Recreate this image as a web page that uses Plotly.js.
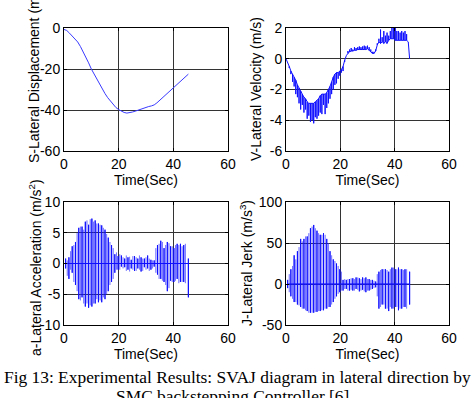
<!DOCTYPE html>
<html><head><meta charset="utf-8">
<script src="https://cdn.plot.ly/plotly-3.0.1.min.js"></script>
<style>html,body{margin:0;padding:0;background:#fff;}#chart{width:474px;height:398px;}</style>
</head><body><div id="chart"></div>
<script>
// ---- S: lateral displacement (m)
const sT = [0,1,2,3,4,5,6,7,8,9,10,11,12,13,14,15,16,17,18,19,20,21,22,23,24,25,26,27,28,29,30,31,32,33,34,35,36,37,38,39,40,41,42,43,44,45,45.5];
const sV = [-0.7,-1.2,-2.5,-3.8,-5.2,-6.8,-9,-11.5,-14.2,-17,-20,-22.5,-25,-27.6,-30,-32,-34,-35.8,-37.5,-38.8,-39.8,-40.6,-41.2,-41.5,-41.4,-41,-40.6,-40.1,-39.6,-39.1,-38.7,-38.3,-38,-37.5,-36.5,-35.3,-34.2,-33,-31.7,-30.5,-29.3,-28,-26.7,-25.4,-24.2,-23,-22.5];

// ---- V: lateral velocity (m/s): base level and spike tip
const vT = [0,0.6,1.2,1.8,2.4,3.0,3.6,4.2,4.8,5.4,6.0,6.6,7.2,7.8,8.4,9.0,9.6,10.2,10.8,11.4,12.0,12.6,13.2,13.8,14.4,15.0,15.6,16.2,16.8,17.4,18.0,18.6,19.2,19.8,20.4,21.0,21.6,22.2,22.8,23.4,24.0,24.6,25.2,25.8,26.4,27.0,27.6,28.2,28.8,29.4,30.0,30.6,31.2,31.8,32.4,33.0,33.6,34.2,34.8,35.4,36.0,36.6,37.2,37.8,38.4,39.0,39.6,40.2,40.8,41.4,42.0,42.6,43.2,43.8,44.4,45.0,45.5];
const vBase = [0,-0.2,-0.5,-0.8,-1.0,-1.2,-1.4,-1.7,-1.9,-2.1,-2.3,-2.5,-2.6,-2.8,-2.9,-2.9,-2.9,-2.9,-2.8,-2.7,-2.6,-2.4,-2.3,-2.3,-2.3,-2.2,-2.0,-1.8,-1.5,-1.2,-1.0,-0.9,-0.9,-0.8,-0.7,-0.5,-0.1,0.2,0.35,0.45,0.5,0.5,0.55,0.55,0.6,0.6,0.6,0.6,0.6,0.6,0.65,0.55,0.45,0.35,0.35,0.5,0.9,1.1,1.0,1.1,1.0,1.1,1.0,1.2,1.3,1.3,1.3,1.2,1.2,1.2,1.2,1.2,1.2,1.2,1.2,1.1,0.0];
const vTip = [0,-0.2,-0.6,-1.0,-1.5,-1.8,-2.3,-2.5,-2.9,-3.3,-3.0,-3.5,-3.3,-3.9,-3.7,-4.1,-4.0,-4.2,-3.8,-3.9,-3.7,-3.5,-3.6,-3.0,-3.6,-3.2,-2.9,-2.6,-2.3,-2.0,-1.7,-1.6,-1.3,-1.1,-0.9,-0.8,-0.2,0.2,0.5,0.6,0.7,0.6,0.75,0.7,0.75,0.8,0.75,0.8,0.85,0.8,0.85,0.75,0.6,0.45,0.45,0.6,1.0,1.3,1.9,1.4,1.8,1.5,1.7,1.5,1.8,2.0,2.0,2.0,1.8,1.8,1.7,1.8,1.7,1.8,1.6,1.1,0.0];

// ---- spike sample times shared by a and J
const tA = [0.6,1.8,3.0,4.2,5.4,6.6,7.8,9.0,10.2,11.4,12.6,13.8,15.0,16.2,17.4,18.6,19.8,21.0,22.2,23.4,24.6,25.8,27.0,28.2,29.4,30.6,31.8,33.0,34.2,35.4,36.6,37.8,39.0,40.2,41.4,42.6,43.8,45.5];
const tB = [1.2,2.4,3.6,4.8,6.0,7.2,8.4,9.6,10.8,12.0,13.2,14.4,15.6,16.8,18.0,19.2,20.4,21.6,22.8,24.0,25.2,26.4,27.6,28.8,30.0,31.2,32.4,33.6,34.8,36.0,37.2,38.4,39.6,40.8,42.0,43.2,44.4];

// ---- a: lateral acceleration (m/s^2)
const aUpA = [0.8,1,2.8,3.5,5.8,6,6.8,6.3,7.3,7,6.5,6.2,5.5,4.2,3,1.5,1.2,1.3,0.8,1.0,0.6,1.2,0.8,1.0,0.8,1.3,0.6,0.5,3.0,3.7,2.5,3.5,2.8,2.5,3.2,3.2,3.0,0.8];
const aDnA = [-0.8,-2.5,-1.5,-3.5,-5.8,-5.5,-7,-7.2,-7,-6.5,-6.3,-6.3,-5.8,-4.5,-3,-1.5,-1,-0.5,-0.6,-1.0,-0.8,-1.2,-0.8,-1.3,-0.6,-0.8,-1.0,-0.5,-1.8,-2.5,-3,-4.5,-2.8,-3,-2.5,-3,-3,-5.5];
const aUpB = [0.5,2,3,5,6,5.5,7,7.2,6.8,6.5,6.3,5.8,4.8,3.5,2.5,1.8,1.5,1.0,1.3,1.1,1.2,1.0,1.3,0.8,1.0,0.8,0.5,2.5,3.2,3.5,3.0,3.3,2.8,3.0,3.0,2.8,3.2];
const aDnB = [-2,-1,-3,-4.5,-6,-6.5,-6.5,-6.8,-6.5,-5.8,-6,-5.5,-5,-3.5,-2.5,-1,-1,-0.8,-1.2,-1.3,-1,-1.2,-1.0,-1.2,-1.0,-1.2,-0.8,-1.5,-2.5,-2.8,-3.5,-4,-3,-2.8,-3.2,-3,-3.2];

// ---- J: lateral jerk (m/s^3)
const jUpA = [5,18,35,40,55,55,58,68,72,65,60,62,55,40,30,25,18,5,5,6,7,8,7,8,8,6,5,3,15,18,18,15,20,18,20,18,18,15];
const jDnA = [-5,-15,-22,-25,-28,-30,-33,-35,-35,-34,-33,-32,-30,-28,-22,-15,-10,-8,-6,-8,-8,-6,-9,-7,-10,-8,-6,-4,-30,-25,-30,-33,-30,-28,-32,-30,-28,-25];
const jUpB = [12,22,30,45,52,58,62,70,68,62,60,60,50,35,28,22,15,6,6,7,6,8,6,7,6,5,4,12,17,18,17,18,20,18,18,17,18];
const jDnB = [-10,-18,-22,-26,-30,-32,-35,-35,-34,-33,-32,-30,-28,-25,-18,-12,-8,-6,-8,-7,-8,-7,-8,-9,-8,-7,-5,-15,-28,-25,-30,-28,-30,-28,-30,-28,-30];

const xTicks = [0,20,40,60];
const sTicks = [0,-20,-40,-60], sTickText = ['0','-20','-40','-60'];
const vTicks = [2,0,-2,-4,-6], vTickText = ['2','0','-2','-4','-6'];
const aTicks = [10,5,0,-5,-10], aTickText = ['10','5','0','-5','-10'];
const jTicks = [100,50,0,-50], jTickText = ['100','50','0','-50'];
const yTitles = ['S-Lateral Displacement (m)', 'V-Lateral Velocity (m/s)', 'a-Lateral Acceleration (m/s<sup>2</sup>)', 'J-Lateral Jerk (m/s<sup>3</sup>)'];

function spikes(t, up, dn, base) {
  const xs = [], ys = [];
  for (let i = 0; i < t.length; i++) {
    const b = base ? base[i] : 0;
    xs.push(t[i], t[i], t[i], t[i]);
    ys.push(b, up[i], dn[i], b);
  }
  return {x: xs, y: ys};
}

const dark = '#1010ff', light = 'rgba(40,40,255,0.4)';
const vS = spikes(vT, vTip, vBase, vBase);
const aA = spikes(tA, aUpA, aDnA), aB = spikes(tB, aUpB, aDnB);
const jA = spikes(tA, jUpA, jDnA), jB = spikes(tB, jUpB, jDnB);

const traces = [
  {x: sT, y: sV, xaxis: 'x', yaxis: 'y', mode: 'lines', line: {color: '#3a3aff', width: 1}},
  {x: vS.x, y: vS.y, xaxis: 'x2', yaxis: 'y2', mode: 'lines', line: {color: dark, width: 1}},
  {x: aB.x, y: aB.y, xaxis: 'x3', yaxis: 'y3', mode: 'lines', line: {color: light, width: 1}},
  {x: aA.x, y: aA.y, xaxis: 'x3', yaxis: 'y3', mode: 'lines', line: {color: dark, width: 1}},
  {x: jB.x, y: jB.y, xaxis: 'x4', yaxis: 'y4', mode: 'lines', line: {color: light, width: 1}},
  {x: jA.x, y: jA.y, xaxis: 'x4', yaxis: 'y4', mode: 'lines', line: {color: dark, width: 1}}
];

const tickFont = {family: 'Liberation Sans, Arial, sans-serif', size: 14, color: '#000'};
function xax(dom, anchor) {
  return {domain: dom, anchor: anchor, range: [0, 60], tickvals: xTicks, ticktext: xTicks.map(String),
    showline: true, mirror: 'ticks', linecolor: '#000', linewidth: 1, showgrid: true, gridcolor: '#333', gridwidth: 1,
    zeroline: false, ticks: 'inside', ticklen: 3, tickcolor: '#000', tickfont: tickFont, automargin: false,
    title: {text: 'Time(Sec)', font: tickFont, standoff: 2}, fixedrange: true};
}
function yax(dom, anchor, range, tv, tt) {
  return {domain: dom, anchor: anchor, range: range, tickvals: tv, ticktext: tt,
    showline: true, mirror: 'ticks', linecolor: '#000', linewidth: 1, showgrid: true, gridcolor: '#333', gridwidth: 1,
    zeroline: false, ticks: 'inside', ticklen: 3, tickcolor: '#000', tickfont: tickFont, automargin: false,
    fixedrange: true};
}
const xL = [64/474, 228/474], xR = [286/474, 449/474];
const yT = [(398-151)/398, (398-28)/398], yB = [(398-325)/398, (398-202)/398];

function yTitle(text, xPx, yPx) {
  return {text: text, xref: 'paper', yref: 'paper', x: xPx/474, y: (398-yPx)/398, textangle: -90,
    xanchor: 'center', yanchor: 'middle', showarrow: false, font: tickFont};
}
const capFont = {family: 'Liberation Serif, Times New Roman, serif', size: 17.4, color: '#000'};

const layout = {
  width: 474, height: 398, margin: {l: 0, r: 0, t: 0, b: 0}, showlegend: false,
  paper_bgcolor: '#fff', plot_bgcolor: '#fff',
  xaxis: xax(xL, 'y'), yaxis: yax(yT, 'x', [-60, 0], sTicks, sTickText),
  xaxis2: xax(xR, 'y2'), yaxis2: yax(yT, 'x2', [-6, 2], vTicks, vTickText),
  xaxis3: xax(xL, 'y3'), yaxis3: yax(yB, 'x3', [-10, 10], aTicks, aTickText),
  xaxis4: xax(xR, 'y4'), yaxis4: yax(yB, 'x4', [-50, 100], jTicks, jTickText),
  annotations: [
    yTitle(yTitles[0], 34, 78),
    yTitle(yTitles[1], 256, 89),
    yTitle(yTitles[2], 35, 268),
    yTitle(yTitles[3], 246, 263),
    {text: 'Fig 13: Experimental Results: SVAJ diagram in lateral direction by', xref: 'paper', yref: 'paper',
     x: 0.5, y: (398-377)/398, xanchor: 'center', yanchor: 'middle', showarrow: false, font: capFont},
    {text: 'SMC backstepping Controller [6]', xref: 'paper', yref: 'paper',
     x: 0.49, y: (398-396)/398, xanchor: 'center', yanchor: 'middle', showarrow: false, font: capFont}
  ]
};
Plotly.newPlot('chart', traces, layout, {staticPlot: true, displayModeBar: false});
</script></body></html>
